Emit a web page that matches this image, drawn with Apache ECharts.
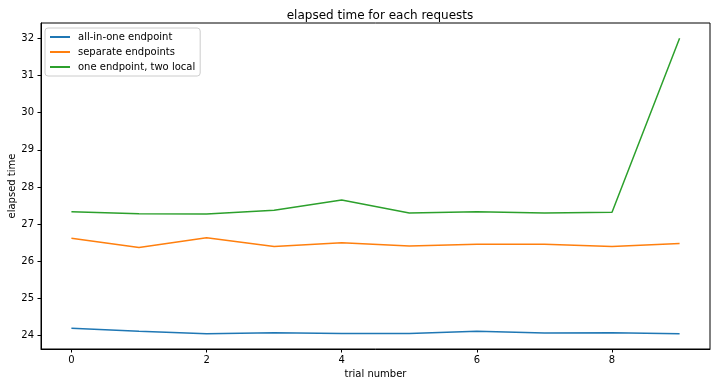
<!DOCTYPE html>
<html>
<head>
<meta charset="utf-8">
<script src="https://cdn.jsdelivr.net/npm/echarts@6/dist/echarts.min.js"></script>
<style>html,body{margin:0;padding:0;background:#fff;}#c{width:717px;height:387px;}</style>
</head>
<body>
<div id="c"></div>
<script>
const trials = [0,1,2,3,4,5,6,7,8,9];
const allInOne = [24.20,24.12,24.05,24.08,24.06,24.06,24.12,24.07,24.08,24.05];
const separate = [26.62,26.37,26.63,26.40,26.50,26.41,26.46,26.46,26.40,26.48];
const twoLocal = [27.33,27.28,27.27,27.37,27.65,27.30,27.33,27.30,27.32,32.00];
const xTicks = [0,2,4,6,8];
const yTicks = [24,25,26,27,28,29,30,31,32];
const seriesNames = ['all-in-one endpoint','separate endpoints','one endpoint, two local'];
const colors = ['#1f77b4','#ff7f0e','#2ca02c'];

const font = 'DejaVu Sans';
const chart = echarts.init(document.getElementById('c'));
const mk = (name, vals, color) => ({
  name, type: 'line', data: trials.map((t,i)=>[t, vals[i]]),
  showSymbol: false, symbol: 'none', animation: false,
  lineStyle: {color, width: 1.5}, itemStyle: {color}
});
chart.setOption({
  animation: false,
  title: {text: 'elapsed time for each requests', left: 375, top: 5, textAlign: 'center',
    textStyle: {fontFamily: font, fontSize: 12, fontWeight: 'normal', color: '#000'}},
  grid: {left: 41, right: 7, top: 23, bottom: 38, show: true, borderColor: '#000', borderWidth: 1,
    containLabel: false, outerBoundsMode: 'none'},
  legend: {
    orient: 'vertical', left: 45, top: 28, data: seriesNames,
    icon: 'rect', itemWidth: 20, itemHeight: 2, itemGap: 5,
    backgroundColor: 'rgba(255,255,255,0.8)', borderColor: '#ccc', borderWidth: 1, borderRadius: 3,
    padding: [4, 5, 4, 5],
    textStyle: {fontFamily: font, fontSize: 10, color: '#000', padding: [0, 0, 0, 3]}
  },
  xAxis: {
    type: 'value', min: -0.45, max: 9.45,
    name: 'trial number', nameLocation: 'middle', nameGap: 20, nameMoveOverlap: false,
    nameTextStyle: {fontFamily: font, fontSize: 10, color: '#000'},
    axisLine: {show: true, onZero: false, lineStyle: {color: '#000'}},
    axisTick: {show: true, inside: false, customValues: xTicks, length: 3.5, lineStyle: {color: '#000'}},
    axisLabel: {customValues: xTicks, margin: 6, fontFamily: font, fontSize: 10, color: '#000'},
    splitLine: {show: false}
  },
  yAxis: {
    type: 'value', min: 23.64, max: 32.41,
    name: 'elapsed time', nameLocation: 'middle', nameGap: 24, nameMoveOverlap: false,
    nameTextStyle: {fontFamily: font, fontSize: 10, color: '#000'},
    axisLine: {show: true, onZero: false, lineStyle: {color: '#000'}},
    axisTick: {show: true, inside: false, customValues: yTicks, length: 3.5, lineStyle: {color: '#000'}},
    axisLabel: {customValues: yTicks, margin: 7, fontFamily: font, fontSize: 10, color: '#000'},
    splitLine: {show: false}
  },
  series: [mk(seriesNames[0], allInOne, colors[0]), mk(seriesNames[1], separate, colors[1]), mk(seriesNames[2], twoLocal, colors[2])]
});
</script>
</body>
</html>
